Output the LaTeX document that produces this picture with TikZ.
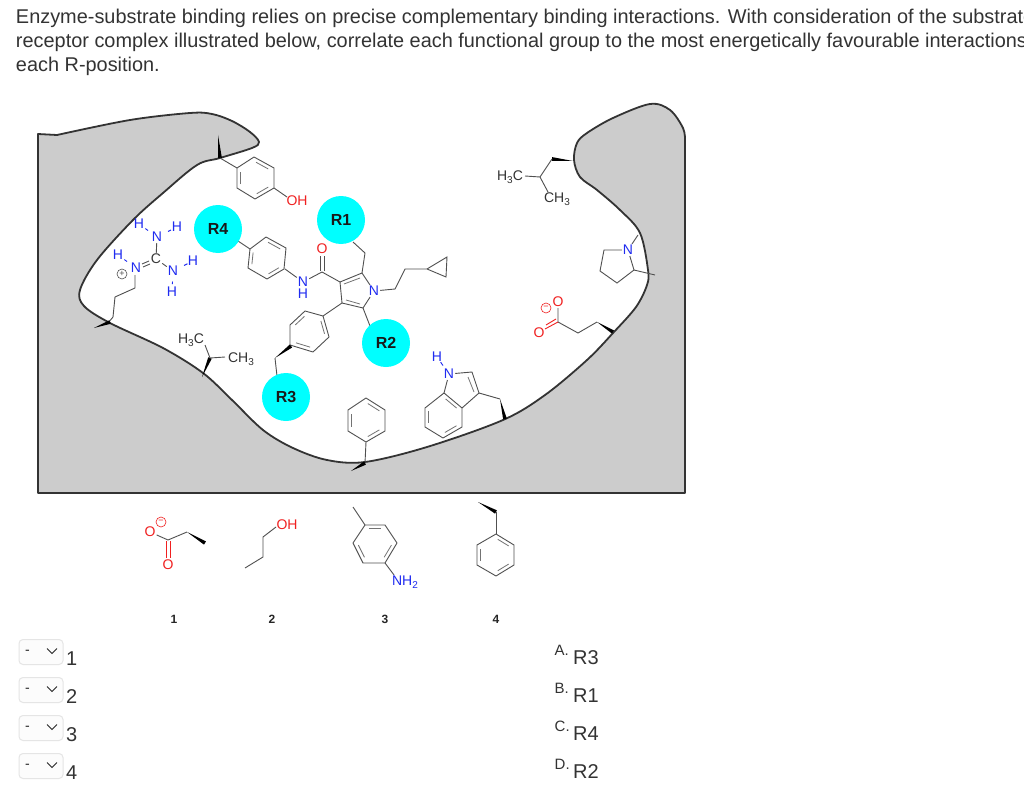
\documentclass[tikz,border=0pt]{standalone}
\usepackage{fontspec}
\setmainfont{Liberation Sans}
\usetikzlibrary{calc}
\definecolor{txt}{HTML}{333333}
\definecolor{bondc}{HTML}{505050}
\definecolor{atomblue}{HTML}{1F2BF0}
\definecolor{atomred}{HTML}{F02020}
\definecolor{pocket}{HTML}{CCCCCC}
\definecolor{rcyan}{HTML}{00FFFF}
\tikzset{
  qtext/.style={anchor=base west,inner sep=0,outer sep=0,text=txt,font=\fontsize{19.9}{24}\selectfont},
  bond/.style={draw=bondc,line width=0.9pt},
  inner bond/.style={draw=bondc!80,line width=0.8pt},
  atom/.style={inner sep=0,outer sep=1.2pt,font=\fontsize{14}{14}\selectfont},
  nit/.style={atom,text=atomblue},
  oxy/.style={atom,text=atomred},
  carb/.style={atom,text=bondc!70!black},
  rcirc/.style={circle,fill=rcyan,minimum size=48,inner sep=0,font=\bfseries\fontsize{16}{16}\selectfont,text=black!90},
  chargep/.style={circle,draw=#1,text=#1,line width=0.6pt,minimum size=10,inner sep=0,font=\fontsize{9}{9}\selectfont},
  numlab/.style={inner sep=0,font=\bfseries\fontsize{12}{12}\selectfont,text=black!85},
  dropbox/.style={draw=black!10,fill=black!1,rounded corners=4,line width=1pt,minimum width=44,minimum height=25,inner sep=0},
  ansnum/.style={anchor=base west,inner sep=0,text=txt,font=\fontsize{20}{20}\selectfont},
  anslet/.style={anchor=base west,inner sep=0,text=txt,font=\fontsize{15}{15}\selectfont}
}
\newcommand\lowsub[1]{\raisebox{-3pt}{\fontsize{10}{10}\selectfont #1}}
\newcommand\innerline[2]{%
  \coordinate (pa) at ($#1!0.2!(cc)$);
  \coordinate (pb) at ($#2!0.2!(cc)$);
  \draw[inner bond] ($(pa)!0.12!(pb)$)--($(pb)!0.12!(pa)$);
}
% hexagon: vertices in order, inner lines on 1-2, 3-4, 5-6
\newcommand\hexring[6]{%
  \draw[bond,line join=round] #1--#2--#3--#4--#5--#6--cycle;
  \coordinate (cc) at ($#1!0.5!#4$);
  \innerline{#1}{#2}
  \innerline{#3}{#4}
  \innerline{#5}{#6}
}
% wedge: narrow at #1, wide at #2
\newcommand\wedgeb[2]{\fill[black] #1--($#2!1.9pt!90:#1$)--($#2!1.9pt!-90:#1$)--cycle;}
\newcommand\chevron[2]{\draw[black!85,line width=1pt] (#1-5,#2-2.5)--(#1,#2+2.5)--(#1+5,#2-2.5);}
\begin{document}
\begin{tikzpicture}[x=1pt,y=-1pt]
\path[use as bounding box,fill=white] (0,0) rectangle (1024,805);
\clip (0,0) rectangle (1024,805);

% question text
\node[qtext] (q1) at (16,23.5) {Enzyme-substrate binding relies on precise complementary binding interactions. With consideration of the substrate};
\node[qtext] (q2) at (16,47.5) {receptor complex illustrated below, correlate each functional group to the most energetically favourable interactions};
\node[qtext] (q3) at (16,71.5) {each R-position.};

% pocket
\draw[fill=pocket,draw=black!80,line width=1.8pt,line join=round]
 (38,493)--(38,134)--(57,135)
 -- plot[smooth,tension=0.55] coordinates {(57,135)(130,120)(190,113)(212,114)(232,121)(250,132)(259,142)(252,148)(220,158)(197,165)(163,193)(133,220)(97,260)(80,290)(84,306)(110,323)(163,348)(203,373)(232,400)(263,430)(293,448)(327,460)(365,462)(427,447)(503,420)(545,395)(587,360)(613,333)(636,307)(647,285)(648,270)(640,233)(620,210)(597,190)(580,177)(574,160)(577,143)(587,133)(613,118)(650,104)(670,110)(683,128)(685,140)}
 --(685,493)--cycle;

% --- tyrosine
\wedgeb{(218,135)}{(220,158)}
\draw[bond] (220,158)--(237,168);
\hexring{(254,157)}{(274,168)}{(274,188)}{(255,199)}{(237,188)}{(237,168)}
\draw[bond] (274,188)--(287,197);
\node[oxy] (tyrOH) at (297,201) {OH};

% --- arginine
\node[nit] (argN1) at (157,237) {N};
\node[nit] (argH1) at (139,224) {H};
\node[nit] (argH2) at (177,227) {H};
\node[carb] (argC) at (156,259) {C};
\node[nit] (argN2) at (136,268) {N};
\node[nit] (argH3) at (118,255) {H};
\node[nit] (argN3) at (173,271) {N};
\node[nit] (argH4) at (193,261) {H};
\node[nit] (argH5) at (172,292) {H};
\node[chargep=bondc] (argPlus) at (122,274) {+};
\draw[bond] (argN1)--(argC);
\draw[bond] (argC)--(argN3);
\draw[bond,draw=atomblue] ($(argN1)!0.5!(argH1)$)--($(argN1)!0.65!(argH1)$);
\draw[bond,draw=atomblue] ($(argN1)!0.55!(argH2)$)--($(argN1)!0.7!(argH2)$);
\draw[bond,draw=atomblue] ($(argN2)!0.5!(argH3)$)--($(argN2)!0.65!(argH3)$);
\draw[bond,draw=atomblue] ($(argN3)!0.55!(argH4)$)--($(argN3)!0.72!(argH4)$);
\draw[bond,draw=atomblue] ($(argN3)!0.5!(argH5)$)--($(argN3)!0.62!(argH5)$);
\draw[bond] (142,264)--(149,261) (143,267)--(150,264);
\draw[bond] (135,275)--(135,288)--(115,297)--(113,317)--(108,323);
\wedgeb{(94,328)}{(110,322)}

% --- Val
\wedgeb{(202,377)}{(210,358)}
\draw[bond] (205,345)--(210,358)--(225,357);
\node[atom,text=txt] (valA) at (191,340) {H\lowsub{3}C};
\node[atom,text=txt] (valB) at (241,359) {CH\lowsub{3}};

% --- Phe in pocket
\hexring{(366,398)}{(385,410)}{(385,431)}{(366,442)}{(348,431)}{(348,410)}
\draw[bond] (366,442)--(365,463);
\wedgeb{(351,471)}{(365,463)}

% --- Trp
\node[nit] (trpN) at (449,374) {N};
\node[nit] (trpH) at (437,357) {H};
\draw[bond] (trpN)--(472,372)--(479,393)--(462,408);
\draw[inner bond] (468,377)--(474,392);
\draw[bond] (trpN)--(444,393);
\hexring{(444,393)}{(462,408)}{(462,427)}{(443,438)}{(425,427)}{(425,408)}
\draw[bond] (479,393)--(500,399);
\wedgeb{(500,399)}{(505,419)}
\draw[bond,draw=atomblue] ($(trpN)!0.5!(trpH)$)--($(trpN)!0.7!(trpH)$);

% --- Leu
\wedgeb{(573,161)}{(552,159)}
\draw[bond] (552,159)--(540,177)--(525,176);
\draw[bond] (540,177)--(548,192);
\node[atom,text=txt] (leuA) at (510,177) {H\lowsub{3}C};
\node[atom,text=txt] (leuB) at (557,199) {CH\lowsub{3}};

% --- Pro
\node[nit] (proN) at (628,250) {N};
\draw[bond] (proN)--(638,235);
\draw[bond] (proN)--(604,250)--(600,271)--(617,283)--(634,270)--(proN);
\draw[bond] (634,270)--(655,275);

% --- Glu
\node[oxy] (gluO1) at (558,302) {O};
\node[oxy] (gluO2) at (539,333) {O};
\node[chargep=atomred] (gluMinus) at (546,308) {\raisebox{0.5pt}{−}};
\draw[bond] (gluO1)--(558,322)--(578,333)--(597,322);
\draw[bond,draw=atomred] (558,322)--(545,329) (556,319)--(546,325);
\wedgeb{(597,322)}{(613,332)}

% --- ligand
\draw[bond] (353,242)--(365,253)--(362,273);
\coordinate (pC3) at (340,282);
\coordinate (pC2) at (362,273);
\coordinate (pC4) at (342,303);
\coordinate (pC5) at (363,308);
\node[nit] (pN) at (374,291) {N};
\draw[bond] (pN)--(pC2)--(pC3)--(pC4)--(pC5)--(pN);
\draw[inner bond] (344,284)--(360,278);
\draw[inner bond] (346,300)--(360,304);
\draw[bond] (pC3)--(322,272);
\node[oxy] (amO) at (322,249) {O};
\draw[bond] (320,271)--(320,256) (324,271)--(324,256);
\node[nit] (amN) at (303,282) {N};
\node[nit] (amH) at (303,294) {H};
\draw[bond] (322,272)--(amN);
\draw[bond] (amN)--(285,269);
% R4 phenyl
\hexring{(266,237)}{(286,248)}{(284,269)}{(267,279)}{(248,268)}{(250,249)}
\draw[bond] (250,249)--(238,241);
% R3 phenyl
\draw[bond] (pC4)--(323,316);
\hexring{(290,325)}{(305,311)}{(323,316)}{(329,337)}{(313,352)}{(290,345)}
\wedgeb{(275,358)}{(291,346)}
\draw[bond] (275,358)--(277,376);
% R2 bond
\draw[bond] (pC5)--(370,326);
% N chain & cyclopropyl
\draw[bond] (pN)--(395,289)--(405,269)--(427,269)--(447,257)--(446,277)--(427,269);

\node[rcirc] (R4) at (218,229) {R4};
\node[rcirc] (R1) at (341,220) {R1};
\node[rcirc] (R2) at (386,343) {R2};
\node[rcirc] (R3) at (286,397) {R3};

% --- candidate 1
\node[oxy] (c1O1) at (150,532) {O};
\node[oxy] (c1O2) at (168,565) {O};
\node[chargep=atomred] (c1Minus) at (161,522) {\raisebox{0.5pt}{−}};
\draw[bond] (c1O1)--(168,540)--(187,532);
\draw[bond,draw=atomred] (166,541)--(166,558) (170,541)--(170,558);
\wedgeb{(187,532)}{(205,543)}
\node[numlab] (n1) at (174,619) {1};

% --- candidate 2
\node[oxy] (c2OH) at (287,525) {OH};
\draw[bond] (276,527)--(263,537)--(263,557)--(245,568);
\node[numlab] (n2) at (272,619) {2};

% --- candidate 3
\draw[bond] (353,507)--(365,525);
\hexring{(365,525)}{(385,525)}{(397,543)}{(385,563)}{(363,563)}{(353,543)}
\draw[bond] (385,563)--(394,575);
\node[nit] (c3N) at (405,582) {NH\lowsub{2}};
\node[numlab] (n3) at (385,619) {3};

% --- candidate 4
\wedgeb{(478,502)}{(496,512)}
\draw[bond] (496,512)--(496,534);
\hexring{(496,534)}{(514,545)}{(514,565)}{(496,576)}{(477,565)}{(477,545)}
\node[numlab] (n4) at (496,619) {4};

% --- dropdowns
\foreach \yy/\lab/\nm in {652/1/a,690/2/b,728/3/c,766/4/d}{
  \node[dropbox] (box\nm) at (41,\yy) {};
  \node[inner sep=0,text=black!85,font=\fontsize{14}{14}\selectfont] (dash\nm) at (27.5,\yy) {-};
  \chevron{52}{\yy-1}
  \node[ansnum] (lab\nm) at (66,\yy+13) {\lab};
}
% --- answers
\foreach \yy/\lt/\rr in {655/A/R3,693/B/R1,731/C/R4,769/D/R2}{
  \node[anslet] (let\lt) at (554.5,\yy) {\lt.};
  \node[ansnum] (ans\lt) at (573,\yy+9) {\rr};
}
\end{tikzpicture}
\end{document}
